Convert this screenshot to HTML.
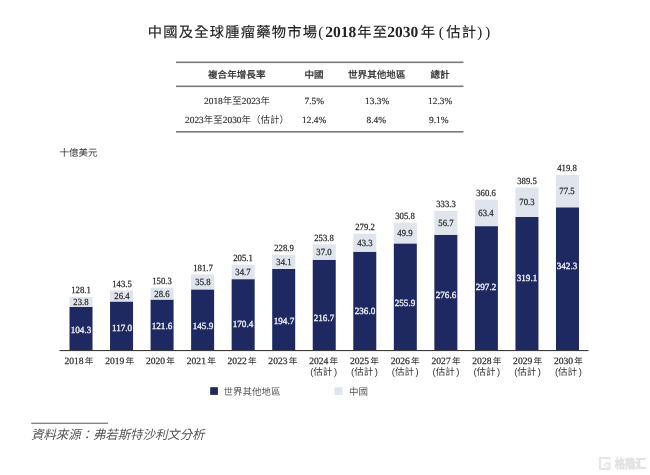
<!DOCTYPE html>
<html lang="zh-TW"><head><meta charset="utf-8">
<style>
html,body{margin:0;padding:0;background:#fff;}
body{width:650px;height:475px;position:relative;overflow:hidden;font-family:"Liberation Serif",serif;color:#222;text-rendering:geometricPrecision;}
div{position:absolute;white-space:nowrap;}
.bd{background:#1f2961;width:23.0px;}
.bl{background:#dfe4ed;width:23.0px;}
.num{width:40px;text-align:center;font-size:9.4px;line-height:14px;color:#2b2b2b;transform:scaleX(0.93);-webkit-text-stroke:0.25px currentColor;}
.num.w{transform:scaleX(0.97);color:#eef0f6;-webkit-text-stroke:0.35px currentColor;}
.yr{width:60px;text-align:center;font-size:9.6px;line-height:10.5px;color:#333;}
.yr b{font-weight:normal;-webkit-text-stroke:0.25px currentColor;}
.cj{font-family:"Liberation Sans",sans-serif;font-size:9.5px;}
.title{left:147.8px;top:23px;font-size:14.3px;letter-spacing:1.2px;font-family:"Liberation Sans",sans-serif;line-height:20px;color:#222;-webkit-text-stroke:0.15px currentColor;}
.title b{font-family:"Liberation Serif",serif;font-weight:bold;font-size:15.5px;letter-spacing:0;-webkit-text-stroke:0;}
.ib{display:inline-block;}
.pp{font-family:"Liberation Serif",serif;-webkit-text-stroke:0;font-size:15px;letter-spacing:0;}
.hl{background:#888;height:2px;}
.tc{font-size:9.4px;line-height:14px;color:#333;-webkit-text-stroke:0.2px currentColor;}
.tc .cj{-webkit-text-stroke:0;}
.th{font-family:"Liberation Sans",sans-serif;font-size:9.6px;font-weight:normal;color:#2a2a2a;-webkit-text-stroke:0.25px currentColor;}
</style></head><body><div style="left:0;top:0;width:650px;height:475px;filter:blur(0.3px)">
<div class="title">中國及全球腫瘤藥物市場<span class="ib pp" style="width:7px">(</span><b style="margin-right:1px">2018</b>年至<b style="margin-left:-1px;margin-right:2.5px">2030</b>年<span class="ib pp" style="width:10px;text-align:center">(</span>估計<span class="ib pp" style="width:8px;text-align:left">)</span><span class="pp">)</span></div>
<div class="th" style="left:208px;top:67px">複合年增長率</div>
<div class="th" style="left:304.5px;top:67px">中國</div>
<div class="th" style="left:348px;top:67px">世界其他地區</div>
<div class="th" style="left:430.5px;top:67px">總計</div>
<div class="tc" style="left:204px;top:94.5px">2018<span class="cj">年至</span>2023<span class="cj">年</span></div>
<div class="tc" style="left:304.5px;top:94.5px">7.5%</div>
<div class="tc" style="left:365px;top:94.5px">13.3%</div>
<div class="tc" style="left:428px;top:94.5px">12.3%</div>
<div class="tc" style="left:185px;top:114px">2023<span class="cj">年至</span>2030<span class="cj">年（估計）</span></div>
<div class="tc" style="left:302px;top:114px">12.4%</div>
<div class="tc" style="left:366.5px;top:114px">8.4%</div>
<div class="tc" style="left:429px;top:114px">9.1%</div>
<div class="cj" style="left:59.5px;top:147px;line-height:14px;color:#333">十億美元</div>
<svg style="position:absolute;left:0;top:0" width="650" height="475">
<rect x="176" y="61.5" width="287.5" height="1.6" fill="#7a7a7a"/>
<rect x="176" y="85.5" width="287.5" height="1.6" fill="#7a7a7a"/>
<rect x="176" y="131" width="287.5" height="1.6" fill="#7a7a7a"/>
<rect x="69.50" y="306.79" width="23.0" height="44.21" fill="#1f2961"/>
<rect x="69.50" y="296.84" width="23.0" height="9.95" fill="#dfe4ed"/>
<rect x="110.04" y="301.48" width="23.0" height="49.52" fill="#1f2961"/>
<rect x="110.04" y="290.44" width="23.0" height="11.04" fill="#dfe4ed"/>
<rect x="150.58" y="299.56" width="23.0" height="51.44" fill="#1f2961"/>
<rect x="150.58" y="287.60" width="23.0" height="11.96" fill="#dfe4ed"/>
<rect x="191.12" y="289.40" width="23.0" height="61.60" fill="#1f2961"/>
<rect x="191.12" y="274.43" width="23.0" height="14.97" fill="#dfe4ed"/>
<rect x="231.66" y="279.16" width="23.0" height="71.84" fill="#1f2961"/>
<rect x="231.66" y="264.65" width="23.0" height="14.51" fill="#dfe4ed"/>
<rect x="272.20" y="269.00" width="23.0" height="82.00" fill="#1f2961"/>
<rect x="272.20" y="254.74" width="23.0" height="14.26" fill="#dfe4ed"/>
<rect x="312.74" y="259.80" width="23.0" height="91.20" fill="#1f2961"/>
<rect x="312.74" y="244.33" width="23.0" height="15.47" fill="#dfe4ed"/>
<rect x="353.28" y="251.73" width="23.0" height="99.27" fill="#1f2961"/>
<rect x="353.28" y="233.62" width="23.0" height="18.10" fill="#dfe4ed"/>
<rect x="393.82" y="243.41" width="23.0" height="107.59" fill="#1f2961"/>
<rect x="393.82" y="222.55" width="23.0" height="20.86" fill="#dfe4ed"/>
<rect x="434.36" y="234.75" width="23.0" height="116.25" fill="#1f2961"/>
<rect x="434.36" y="211.05" width="23.0" height="23.71" fill="#dfe4ed"/>
<rect x="474.90" y="226.14" width="23.0" height="124.86" fill="#1f2961"/>
<rect x="474.90" y="199.63" width="23.0" height="26.51" fill="#dfe4ed"/>
<rect x="515.44" y="216.98" width="23.0" height="134.02" fill="#1f2961"/>
<rect x="515.44" y="187.59" width="23.0" height="29.39" fill="#dfe4ed"/>
<rect x="555.98" y="207.28" width="23.0" height="143.72" fill="#1f2961"/>
<rect x="555.98" y="174.88" width="23.0" height="32.40" fill="#dfe4ed"/>
<rect x="59.5" y="350" width="529" height="1.1" fill="#3a3a3a"/>
<rect x="210.2" y="387.2" width="7.7" height="7.7" fill="#1f2961"/>
<rect x="334.6" y="387.3" width="8" height="7.7" fill="#dfe4ed"/>
<rect x="31.2" y="422.7" width="76.8" height="1.1" fill="#666"/>
</svg>
<div class="num w" style="left:61.00px;top:323.90px">104.3</div>
<div class="num" style="left:61.00px;top:295.82px">23.8</div>
<div class="num" style="left:61.00px;top:284.24px">128.1</div>
<div class="yr" style="left:48.90px;top:356px"><b>2018</b><span class="cj" style="font-size:8.6px;margin-left:1.2px">年</span></div>
<div class="num w" style="left:101.54px;top:322.00px">117.0</div>
<div class="num" style="left:101.54px;top:289.96px">26.4</div>
<div class="num" style="left:101.54px;top:277.84px">143.5</div>
<div class="yr" style="left:89.69px;top:356px"><b>2019</b><span class="cj" style="font-size:8.6px;margin-left:1.2px">年</span></div>
<div class="num w" style="left:142.08px;top:320.20px">121.6</div>
<div class="num" style="left:142.08px;top:287.58px">28.6</div>
<div class="num" style="left:142.08px;top:275.00px">150.3</div>
<div class="yr" style="left:130.48px;top:356px"><b>2020</b><span class="cj" style="font-size:8.6px;margin-left:1.2px">年</span></div>
<div class="num w" style="left:182.62px;top:319.60px">145.9</div>
<div class="num" style="left:182.62px;top:275.92px">35.8</div>
<div class="num" style="left:182.62px;top:261.83px">181.7</div>
<div class="yr" style="left:171.27px;top:356px"><b>2021</b><span class="cj" style="font-size:8.6px;margin-left:1.2px">年</span></div>
<div class="num w" style="left:223.16px;top:317.60px">170.4</div>
<div class="num" style="left:223.16px;top:265.90px">34.7</div>
<div class="num" style="left:223.16px;top:252.05px">205.1</div>
<div class="yr" style="left:212.06px;top:356px"><b>2022</b><span class="cj" style="font-size:8.6px;margin-left:1.2px">年</span></div>
<div class="num w" style="left:263.70px;top:314.70px">194.7</div>
<div class="num" style="left:263.70px;top:255.87px">34.1</div>
<div class="num" style="left:263.70px;top:242.14px">228.9</div>
<div class="yr" style="left:252.85px;top:356px"><b>2023</b><span class="cj" style="font-size:8.6px;margin-left:1.2px">年</span></div>
<div class="num w" style="left:304.24px;top:311.60px">216.7</div>
<div class="num" style="left:304.24px;top:246.06px">37.0</div>
<div class="num" style="left:304.24px;top:231.73px">253.8</div>
<div class="yr" style="left:293.64px;top:356px"><b>2024</b><span class="cj" style="font-size:8.6px;margin-left:1.2px">年</span><br><span class="cj">(估計<span style="margin-left:1.5px">)</span></span></div>
<div class="num w" style="left:344.78px;top:305.20px">236.0</div>
<div class="num" style="left:344.78px;top:236.68px">43.3</div>
<div class="num" style="left:344.78px;top:221.02px">279.2</div>
<div class="yr" style="left:334.43px;top:356px"><b>2025</b><span class="cj" style="font-size:8.6px;margin-left:1.2px">年</span><br><span class="cj">(估計<span style="margin-left:1.5px">)</span></span></div>
<div class="num w" style="left:385.32px;top:297.20px">255.9</div>
<div class="num" style="left:385.32px;top:226.98px">49.9</div>
<div class="num" style="left:385.32px;top:209.95px">305.8</div>
<div class="yr" style="left:375.22px;top:356px"><b>2026</b><span class="cj" style="font-size:8.6px;margin-left:1.2px">年</span><br><span class="cj">(估計<span style="margin-left:1.5px">)</span></span></div>
<div class="num w" style="left:425.86px;top:288.80px">276.6</div>
<div class="num" style="left:425.86px;top:216.90px">56.7</div>
<div class="num" style="left:425.86px;top:198.45px">333.3</div>
<div class="yr" style="left:416.01px;top:356px"><b>2027</b><span class="cj" style="font-size:8.6px;margin-left:1.2px">年</span><br><span class="cj">(估計<span style="margin-left:1.5px">)</span></span></div>
<div class="num w" style="left:466.40px;top:280.80px">297.2</div>
<div class="num" style="left:466.40px;top:206.89px">63.4</div>
<div class="num" style="left:466.40px;top:187.03px">360.6</div>
<div class="yr" style="left:456.80px;top:356px"><b>2028</b><span class="cj" style="font-size:8.6px;margin-left:1.2px">年</span><br><span class="cj">(估計<span style="margin-left:1.5px">)</span></span></div>
<div class="num w" style="left:506.94px;top:271.80px">319.1</div>
<div class="num" style="left:506.94px;top:196.29px">70.3</div>
<div class="num" style="left:506.94px;top:174.99px">389.5</div>
<div class="yr" style="left:497.59px;top:356px"><b>2029</b><span class="cj" style="font-size:8.6px;margin-left:1.2px">年</span><br><span class="cj">(估計<span style="margin-left:1.5px">)</span></span></div>
<div class="num w" style="left:547.48px;top:259.80px">342.3</div>
<div class="num" style="left:547.48px;top:185.08px">77.5</div>
<div class="num" style="left:547.48px;top:162.28px">419.8</div>
<div class="yr" style="left:538.38px;top:356px"><b>2030</b><span class="cj" style="font-size:8.6px;margin-left:1.2px">年</span><br><span class="cj">(估計<span style="margin-left:1.5px">)</span></span></div>
<div class="cj" style="left:223.5px;top:385.5px;line-height:14px;color:#555">世界其他地區</div>
<div class="cj" style="left:349px;top:385.5px;line-height:14px;color:#555">中國</div>
<div style="left:31px;top:427px;font-size:12.4px;line-height:16px;font-style:italic;font-family:'Liberation Sans',sans-serif;color:#555">資料來源：弗若斯特沙利文分析</div>
<svg style="position:absolute;left:597px;top:455px" width="16" height="17" viewBox="0 0 16 17"><path d="M12.5 4.5 V3 H3 V14 H12.5 V8.5 H8" fill="none" stroke="#e6e6e6" stroke-width="2"/><path d="M7 9.5 L11 13.5" stroke="#e8e8e8" stroke-width="1.5"/></svg>
<div style="left:615px;top:455.5px;font-size:12px;line-height:16px;font-family:'Liberation Sans',sans-serif;font-weight:bold;color:#fbfbfb;-webkit-text-stroke:0.7px #e3e3e3;transform:scaleX(0.85);transform-origin:0 0">格隆汇</div>
</div></body></html>
